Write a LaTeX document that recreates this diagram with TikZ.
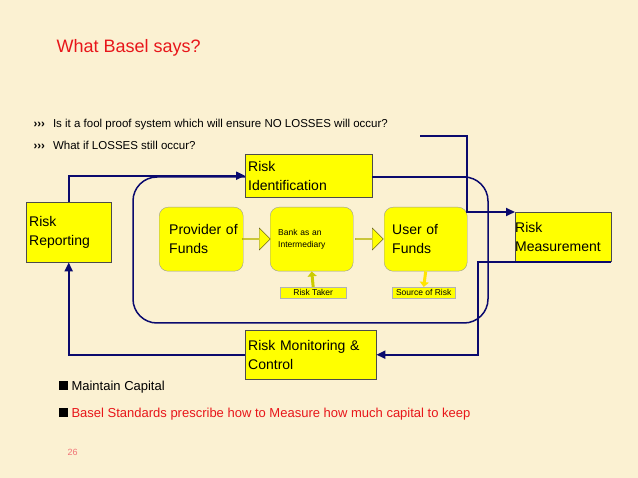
\documentclass[tikz,border=0pt]{standalone}
\usepackage{fontspec}
\setmainfont{Liberation Sans}
\usetikzlibrary{arrows.meta,shapes.arrows}
\definecolor{bg}{HTML}{FBF1D2}
\definecolor{yel}{HTML}{FFFF00}
\definecolor{navy}{HTML}{0A0A6E}
\definecolor{ttl}{HTML}{E8161A}
\begin{document}
\begin{tikzpicture}[x=1pt,y=-1pt,
 sq/.style={draw=black!70,fill=yel,anchor=north west,align=left,inner xsep=3pt,inner ysep=2pt,font=\fontsize{14}{19}\selectfont},
 rb/.style={draw=black!40,fill=yel,rounded corners=9pt,anchor=north west,minimum height=64pt,inner xsep=8pt},
 tag/.style={fill=yel,draw=black!30,anchor=north west,inner sep=1pt,font=\fontsize{8.5}{9}\selectfont,minimum height=11pt},
 con/.style={draw=navy,line width=2pt},
 arr/.style={con,-{Triangle[length=9pt,width=8pt]}},
 fat/.style={single arrow,draw=olive!70!black,fill=yel,minimum height=28pt,minimum width=22pt,single arrow head extend=4pt,inner sep=0pt}]
\fill[bg] (0,0) rectangle (638,478);
\useasboundingbox (0,0) rectangle (638,478);
\node[anchor=west,text=ttl,font=\fontsize{18}{22}\selectfont] (t) at (53,48) {What Basel says?};
\node[anchor=west,font=\fontsize{11.5}{13}\selectfont] (q1) at (30,125) {\textbf{›››}\hspace{8pt}Is it a fool proof system which will ensure NO LOSSES will occur?};
\node[anchor=west,font=\fontsize{11.5}{13}\selectfont] (q2) at (30,145) {\textbf{›››}\hspace{8pt}What if LOSSES still occur?};
\draw[navy,line width=1.5pt,rounded corners=24pt] (133,177) rectangle (488,323);
\node[sq,text width=121pt,minimum height=43pt] (ri) at (245,154) {Risk\\Identification};
\node[sq,text width=79pt,minimum height=60pt] (rr) at (26,202) {Risk\\Reporting};
\node[sq,text width=96pt,minimum height=49pt,inner xsep=0pt] (rm) at (515,212) {Risk\\Measurement};
\node[sq,text width=125pt,minimum height=49pt] (rc) at (245,330) {Risk Monitoring \&\\Control};
\node[rb,text width=76pt,inner xsep=4pt,align=left,font=\fontsize{14}{19}\selectfont] (pf) at (159,207) {\hspace{6pt}Provider of\\\hspace*{6pt}Funds};
\node[rb,text width=67pt,align=left,font=\fontsize{8.5}{12}\selectfont] (bk) at (270,207) {Bank as an\\Intermediary};
\node[rb,text width=67pt,align=left,font=\fontsize{14}{19}\selectfont] (uf) at (384,207) {User of\\Funds};
\node[tag,minimum width=66pt] (rt) at (280,287) {Risk Taker};
\node[tag,minimum width=63pt] (sr) at (392,287) {Source of Risk};
\node[fat] (a1) at (256,239) {};
\node[fat] (a2) at (369,239) {};
\draw[-{Triangle[length=5pt,width=9pt]},line width=3pt,draw=yel!60!olive] (rt.north) -- (bk.south);
\draw[-{Triangle[length=5pt,width=9pt]},line width=3pt,draw=yel!80!orange] (uf.south) -- (sr.north);
\coordinate (j) at (467,177);
\draw[arr] (rr.north) |- (ri.west);
\draw[con] (ri.east|-j) -- (j);
\draw[arr] (420,136) -| (467,212) -- (rm.west|-0,212);
\draw[arr] (rm.east|-0,262) -- (478,262) |- (rc.east);
\draw[arr] (rc.west) -| (rr.south);
\node[anchor=west,font=\fontsize{13}{15}\selectfont] (b1) at (55,387) {\rule{9pt}{9pt}\hspace{4pt}Maintain Capital};
\node[anchor=west,text=ttl,font=\fontsize{13}{15}\selectfont] (b2) at (55,414) {\textcolor{black}{\rule{9pt}{9pt}}\hspace{4pt}Basel Standards prescribe how to Measure how much capital to keep};
\node[anchor=west,text=ttl!60,font=\fontsize{9}{10}\selectfont] (pn) at (64,452) {26};
\end{tikzpicture}
\end{document}
